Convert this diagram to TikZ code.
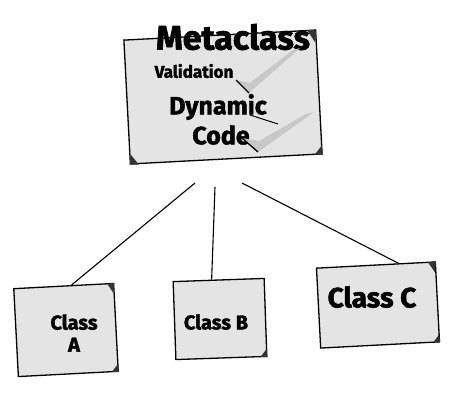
\documentclass[tikz,border=0pt]{standalone}
\usepackage{fontspec}
\setmainfont{Fira Sans}[BoldFeatures={FakeBold=1.8}]
\definecolor{paper}{HTML}{E4E4E4}
\definecolor{tick}{HTML}{C8C8C8}
\tikzset{
  card/.style={draw, fill=paper, line width=1.3pt, inner sep=0pt},
  word/.style={font=\bfseries, inner sep=0pt, align=center},
  wire/.style={line width=1.1pt},
  smudge/.style={fill=black!80}
}
\begin{document}
\begin{tikzpicture}[x=1pt, y=-1pt]
    \useasboundingbox (0,0) rectangle (474,405);

    % Draw the metaclass card
    \node[card, minimum width=192pt, minimum height=124pt, rotate=3] (meta) at (223,97) {};
    \fill[smudge] (meta.north east) -- ++(-9,1) -- ++(8,12) -- cycle;
    \fill[smudge] (meta.south west) -- ++(9,0) -- ++(-8,-10) -- cycle;
    \fill[smudge] (meta.south east) -- ++(-8,0) -- ++(7,-9) -- cycle;
    \node[word, font=\bfseries\fontsize{34}{34}\selectfont] (title) at (233,37) {Metaclass};
    \node[word, font=\bfseries\fontsize{17}{17}\selectfont] (valid) at (194,71) {Validation};
    \node[word, font=\bfseries\fontsize{25}{25}\selectfont] (dyn) at (218,107) {Dynamic};
    \node[word, font=\bfseries\fontsize{25}{25}\selectfont] (code) at (221,135) {Code};

    % Draw the check marks
    \fill[tick] (236,80) -- (249,93) -- (300,48) -- (293,50) -- (250,83) -- cycle;
    \draw[line width=1.3pt] (236,80) -- (249,93);
    \fill[tick] (242,138) -- (258,152) -- (314,112) -- (306,114) -- (259,141) -- cycle;
    \draw[line width=1.3pt] (242,138) -- (258,152);
    \draw[line width=1pt] (250,115) -- (278,124);

    % Draw the class cards
    \node[card, minimum width=100pt, minimum height=88pt, rotate=3] (clsA) at (66,330) {};
    \fill[smudge] (clsA.north east) -- ++(-7,1) -- ++(6,9) -- cycle;
    \fill[smudge] (clsA.south east) -- ++(-7,0) -- ++(6,-8) -- cycle;
    \node[word, font=\bfseries\fontsize{20}{20}\selectfont] (textA) at (74,333) {Class\\[2pt]A};
    \node[card, minimum width=91pt, minimum height=78pt, rotate=2] (clsB) at (220,319) {};
    \fill[smudge] (clsB.south east) -- ++(-7,0) -- ++(6,-8) -- cycle;
    \node[word, font=\bfseries\fontsize{20}{20}\selectfont] (textB) at (216,322) {Class B};
    \node[card, minimum width=119pt, minimum height=80pt, rotate=3] (clsC) at (378,305) {};
    \fill[smudge] (clsC.north east) -- ++(-8,1) -- ++(7,10) -- cycle;
    \fill[smudge] (clsC.south east) -- ++(-7,0) -- ++(6,-8) -- cycle;
    \node[word, font=\bfseries\fontsize{28}{28}\selectfont] (textC) at (372,297) {Class C};

    % Draw the connectors from the metaclass to each class
    \coordinate (outA) at (195,183);
    \coordinate (outB) at (215,187);
    \coordinate (outC) at (242,183);
    \draw[wire] (outA) -- (clsA.80);
    \draw[wire] (outB) -- (clsB.100);
    \draw[wire] (outC) -- (clsC.61);
\end{tikzpicture}
\end{document}
